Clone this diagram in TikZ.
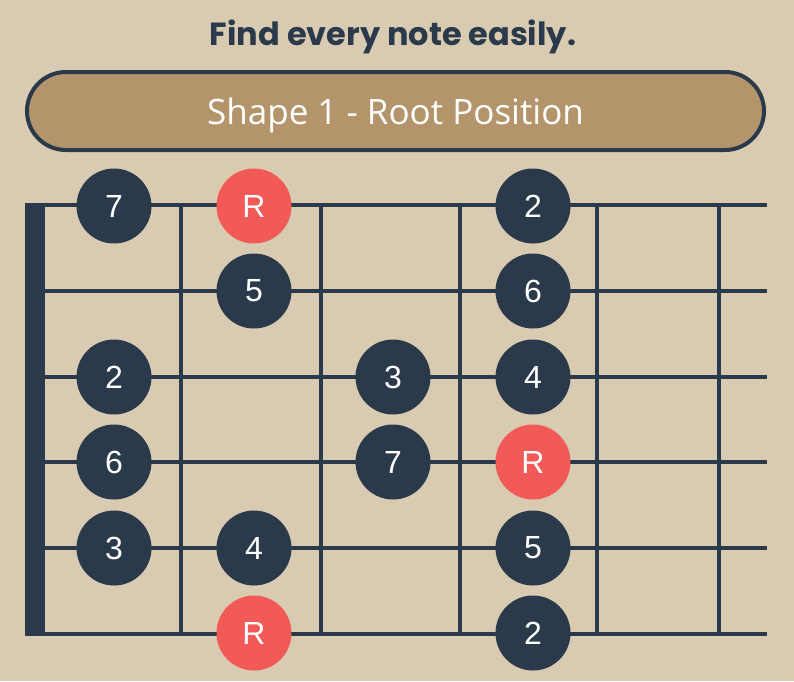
\documentclass[tikz,border=0pt]{standalone}
\usepackage{fontspec}
\setmainfont{Liberation Sans}
\newfontfamily\titlefont{Poppins}
\newfontfamily\bannerfont{Open Sans}
\usetikzlibrary{shapes.misc}
\definecolor{paper}{HTML}{D8CBB1}
\definecolor{navy}{HTML}{2B3A4B}
\definecolor{tan}{HTML}{B4956B}
\definecolor{rootred}{HTML}{F25A58}
\begin{document}
\begin{tikzpicture}[x=1pt, y=-1pt,
    note/.style={circle, fill=navy, minimum size=75pt, inner sep=0pt, text=white, font=\fontsize{32}{32}\selectfont},
    root/.style={note, fill=rootred},
    wire/.style={draw=navy, line width=4pt}]
      % page
      \fill[paper] (0,0) rectangle (794,681);
      \useasboundingbox (0,0) rectangle (794,681);

      \node (title) [anchor=base, text=navy, font=\titlefont\bfseries\fontsize{32}{32}\selectfont] at (393,45) {Find every note easily.};
      \node (banner) [rounded rectangle, draw=navy, fill=tan, line width=4pt, minimum width=737pt, minimum height=78pt, inner sep=0pt, text=white, font=\bannerfont\fontsize{35}{35}\selectfont] at (395.5,111) {};
      \node (bannertext) [anchor=base, text=white, font=\bannerfont\fontsize{35}{35}\selectfont] at (395.5,124) {Shape 1 - Root Position};

      % strings
      \coordinate (s1l) at (45,205);  \coordinate (s1r) at (767,205);
      \coordinate (s2l) at (45,291);  \coordinate (s2r) at (767,291);
      \coordinate (s3l) at (45,377);  \coordinate (s3r) at (767,377);
      \coordinate (s4l) at (45,462);  \coordinate (s4r) at (767,462);
      \coordinate (s5l) at (45,548);  \coordinate (s5r) at (767,548);
      \coordinate (s6l) at (45,634);  \coordinate (s6r) at (767,634);

      % frets
      \coordinate (f1t) at (181,203); \coordinate (f1b) at (181,636);
      \coordinate (f2t) at (321,203); \coordinate (f2b) at (321,636);
      \coordinate (f3t) at (460,203); \coordinate (f3b) at (460,636);
      \coordinate (f4t) at (597,203); \coordinate (f4b) at (597,636);
      \coordinate (f5t) at (719,203); \coordinate (f5b) at (719,636);

      \draw[wire] (s1l) -- (s1r);
      \draw[wire] (s2l) -- (s2r);
      \draw[wire] (s3l) -- (s3r);
      \draw[wire] (s4l) -- (s4r);
      \draw[wire] (s5l) -- (s5r);
      \draw[wire] (s6l) -- (s6r);
      \draw[wire] (f1t) -- (f1b);
      \draw[wire] (f2t) -- (f2b);
      \draw[wire] (f3t) -- (f3b);
      \draw[wire] (f4t) -- (f4b);
      \draw[wire] (f5t) -- (f5b);

      % nut
      \fill[navy] (25,203) rectangle (45,636);

      % notes
      \node[note] (n1a) at (114,206) {7};
      \node[root] (n1b) at (254,206) {R};
      \node[note] (n1d) at (533,206) {2};
      \node[note] (n2b) at (254,291) {5};
      \node[note] (n2d) at (533,291) {6};
      \node[note] (n3a) at (114,377) {2};
      \node[note] (n3c) at (393,377) {3};
      \node[note] (n3d) at (533,377) {4};
      \node[note] (n4a) at (114,462) {6};
      \node[note] (n4c) at (393,462) {7};
      \node[root] (n4d) at (533,462) {R};
      \node[note] (n5a) at (114,548) {3};
      \node[note] (n5b) at (254,548) {4};
      \node[note] (n5d) at (533,548) {5};
      \node[root] (n6b) at (254,633) {R};
      \node[note] (n6d) at (533,633) {2};
    \end{tikzpicture}
\end{document}
